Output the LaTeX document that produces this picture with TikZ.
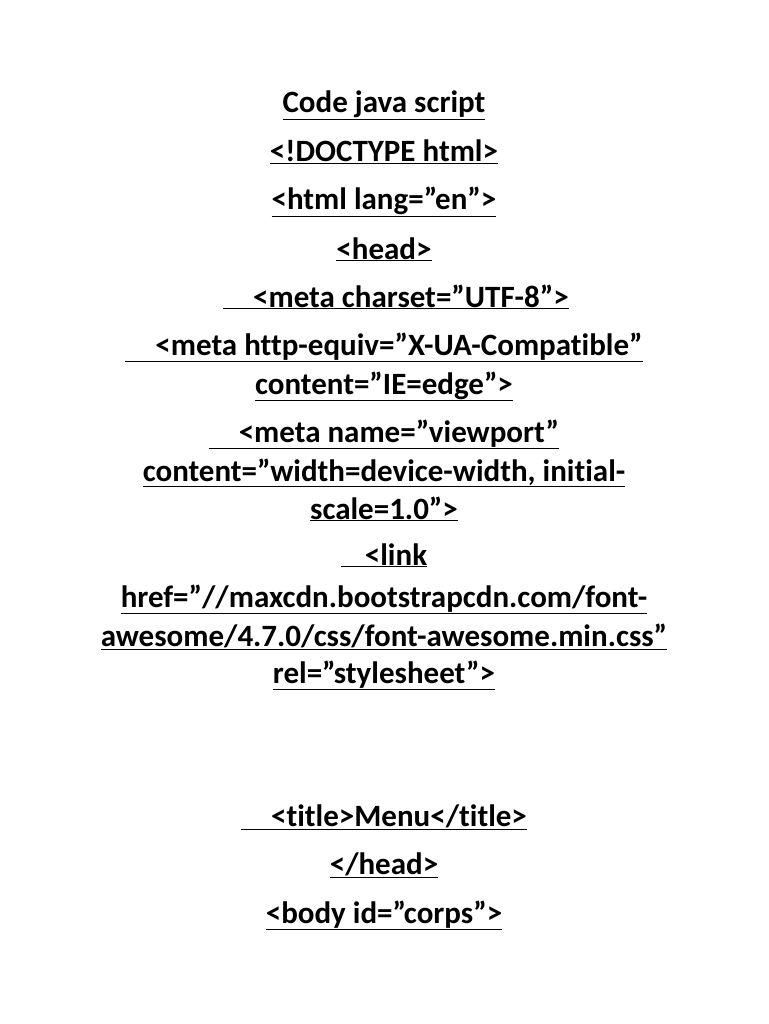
\documentclass[tikz,border=0pt]{standalone}
\usepackage{fontspec}
\defaultfontfeatures{}
\setmainfont{Carlito}[Ligatures=NoCommon]
\begin{document}
\begin{tikzpicture}[x=1pt,y=1pt,
  ln/.style={anchor=base,inner sep=0pt,font=\fontsize{31}{36}\selectfont\bfseries}]
\useasboundingbox (0,0) rectangle (768,-1024);
\fill[white] (0,0) rectangle (768,-1024);
\newcommand{\myind}[1]{\hspace*{#1pt}}
\node[ln] (l1) at (384,-113) {\underline{Code java script}};
\node[ln] (l2) at (384,-162) {\underline{<!DOCTYPE html>}};
\node[ln] (l3) at (384,-210) {\underline{<html lang="en">}};
\node[ln] (l4) at (384,-259) {\underline{<head>}};
\node[ln] (l5) at (396,-307) {\underline{\myind{30}<meta charset="UTF-8">}};
\node[ln] (l6) at (384,-355) {\underline{\myind{30}<meta http-equiv="X-UA-Compatible"}};
\node[ln] (l7) at (384,-394) {\underline{content="IE=edge">}};
\node[ln] (l8) at (384,-442) {\underline{\myind{30}<meta name="viewport"}};
\node[ln] (l9) at (384,-481) {\underline{content="width=device-width, initial-}};
\node[ln] (l10) at (384,-519) {\underline{scale=1.0">}};
\node[ln] (l11) at (384,-565) {\underline{\myind{24}<link}};
\node[ln] (l12) at (384,-607) {\underline{href="//maxcdn.bootstrapcdn.com/font-}};
\node[ln] (l13) at (384,-646) {\underline{awesome/4.7.0/css/font-awesome.min.css"}};
\node[ln] (l14) at (384,-683) {\underline{rel="stylesheet">}};
\node[ln] (l15) at (384,-826) {\underline{\myind{30}<title>Menu</title>}};
\node[ln] (l16) at (384,-874) {\underline{</head>}};
\node[ln] (l17) at (384,-923) {\underline{<body id="corps">}};
\end{tikzpicture}
\end{document}
